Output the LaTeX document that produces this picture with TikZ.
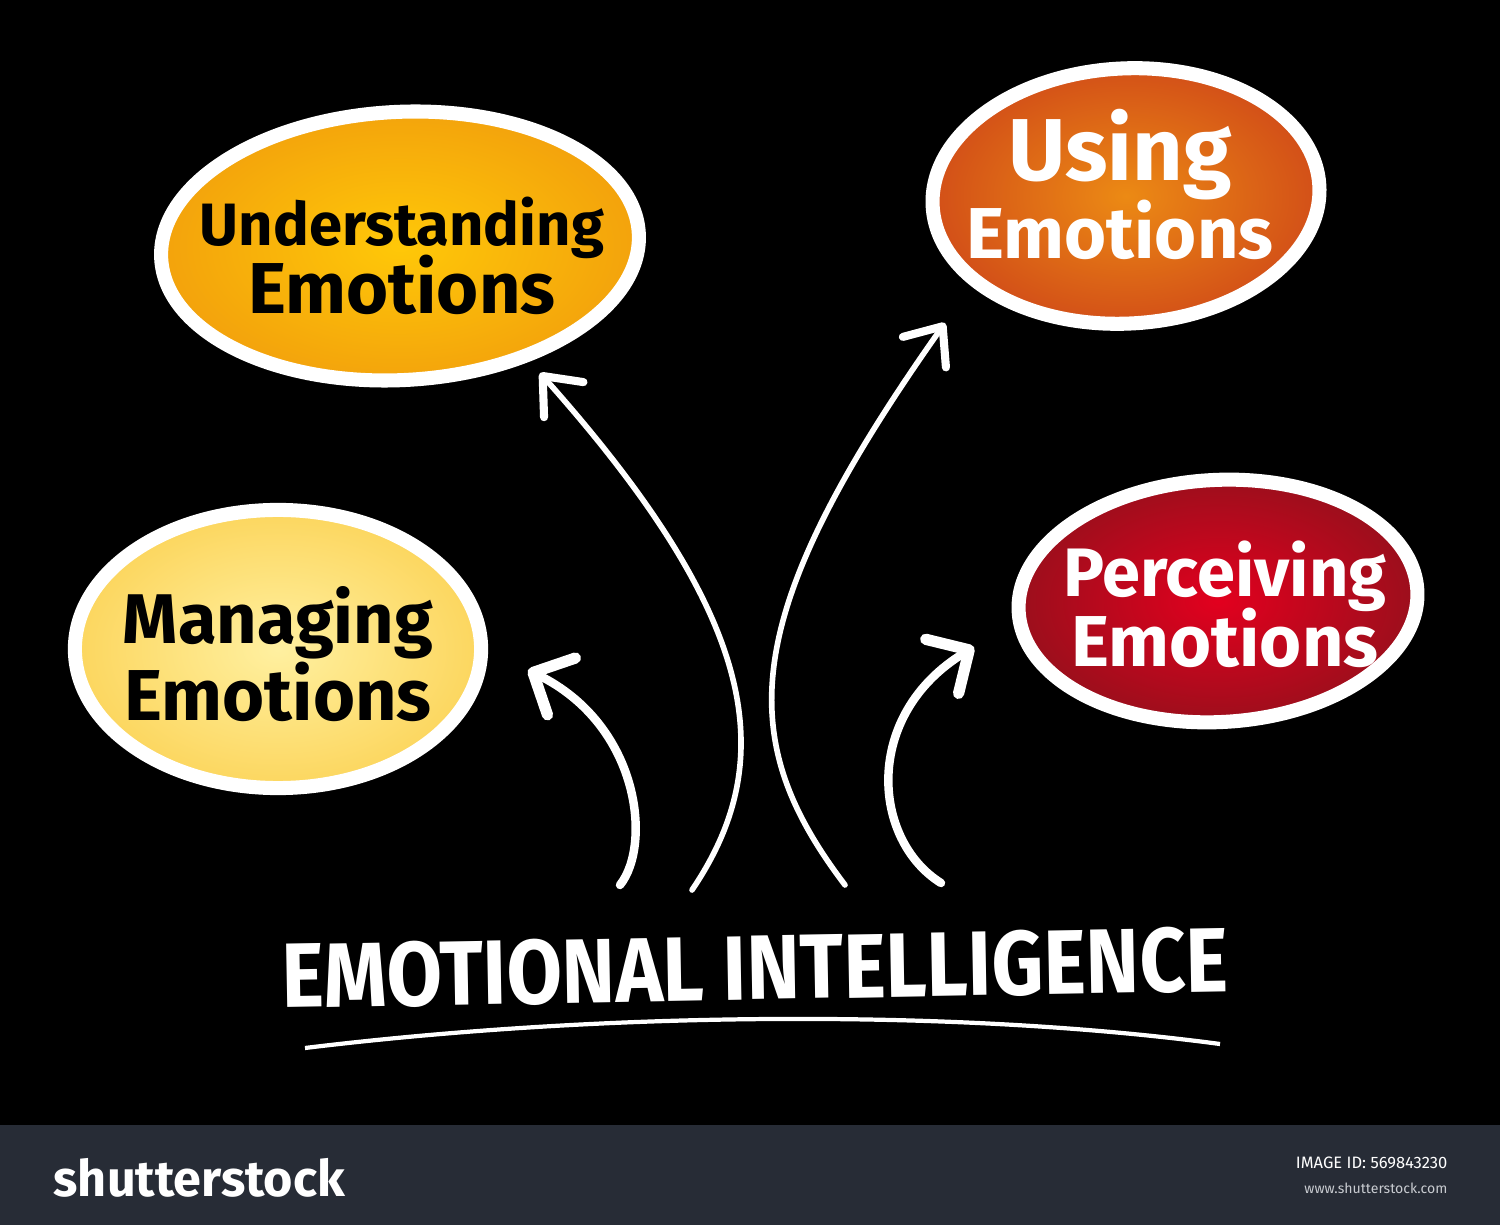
\documentclass[tikz,border=0pt]{standalone}
\usepackage{fontspec}
\setmainfont{Fira Sans}
\usetikzlibrary{shapes.geometric, arrows.meta}
\definecolor{footbar}{HTML}{272C36}
\definecolor{footgray}{HTML}{C8CBD0}
\definecolor{undin}{HTML}{FFC808}
\definecolor{undout}{HTML}{F3A20C}
\definecolor{usein}{HTML}{EC8A14}
\definecolor{useout}{HTML}{D24E18}
\definecolor{manin}{HTML}{FFF0A0}
\definecolor{manout}{HTML}{FCD65E}
\definecolor{perin}{HTML}{E2001E}
\definecolor{perout}{HTML}{9A0F1C}
\begin{document}
\begin{tikzpicture}[x=.01cm, y=-.01cm,
    emo/.style={ellipse, draw=white, line width=4pt, inner sep=0pt},
    lab/.style={align=center, inner sep=0pt, font=\fontsize{20.5}{20.5}\selectfont\bfseries},
    limb/.style={draw=white, line width=1.6pt, line cap=round, -{Straight Barb[round, length=9pt, width=15pt, line width=2.3pt]}},
    twig/.style={draw=white, line width=2.4pt, line cap=round, -{Straight Barb[round, length=9pt, width=18pt, line width=3.2pt]}}
  ]
        \useasboundingbox (0,0) rectangle (1500,1225);
        \fill [black] (0,0) rectangle (1500,1225);
        \fill [footbar] (0,1125) rectangle (1500,1225);
        \node (understanding) [emo, rotate=3, inner color=undin, outer color=undout,
          minimum width=4.78cm, minimum height=2.68cm] at (400,246) {};
        \node (using) [emo, rotate=3, inner color=usein, outer color=useout,
          minimum width=3.87cm, minimum height=2.55cm] at (1126,196) {};
        \node (managing) [emo, inner color=manin, outer color=manout,
          minimum width=4.06cm, minimum height=2.78cm] at (278,649) {};
        \node (perceiving) [emo, rotate=3, inner color=perin, outer color=perout,
          minimum width=3.99cm, minimum height=2.42cm] at (1218,601) {};
        \node (understandinglab) [lab, text=black] at (402,256) {\fontsize{17}{20.5}\selectfont Understanding\\[-1pt]Emotions};
        \node (usinglab) [lab, text=white] at (1120,184) {\fontsize{25}{25}\selectfont Using\\[-1pt]Emotions};
        \node (managinglab) [lab, text=black] at (278,654) {\fontsize{20}{20.5}\selectfont Managing\\Emotions};
        \node (perceivinglab) [lab, text=white] at (1225,604) {\fontsize{19.5}{20.5}\selectfont Perceiving\\[-2pt]Emotions};
        \node (title) [rotate=1, inner sep=0pt, text=white, font=\fontsize{26}{26}\selectfont\bfseries] at (755,968) {\scalebox{.88}[1]{EMOTIONAL INTELLIGENCE}};
        \coordinate (m0) at (620,885);
        \coordinate (m1) at (528,670);
        \coordinate (u0) at (692,890);
        \coordinate (u1) at (540,373);
        \coordinate (g0) at (845,885);
        \coordinate (g1) at (945,323);
        \coordinate (p0) at (941,883);
        \coordinate (p1) at (974,647);
        \coordinate (l0) at (305,1048);
        \coordinate (l1) at (1220,1044);
        \draw [twig] (m0) .. controls (652,845) and (640,725) .. (m1);
        \draw [limb] (u0) .. controls (780,760) and (760,620) .. (u1);
        \draw [limb] (g0) .. controls (735,740) and (735,620) .. (g1);
        \draw [twig] (p0) .. controls (872,840) and (862,715) .. (p1);
        \draw [white, line width=1.2pt] (l0) .. controls (600,1012) and (950,1008) .. (l1);
        \node (brand) [anchor=west, inner sep=0pt, text=white, font=\fontsize{14.3}{15}\selectfont\bfseries] at (53,1178) {shutterstock};
        \node (imgid) [anchor=east, inner sep=0pt, text=white, font=\fontsize{4.7}{6}\selectfont] at (1448,1163) {IMAGE ID: 569843230};
        \node (site) [anchor=east, inner sep=0pt, text=footgray, font=\fontsize{4}{6}\selectfont] at (1448,1188) {www.shutterstock.com};
      \end{tikzpicture}
\end{document}
